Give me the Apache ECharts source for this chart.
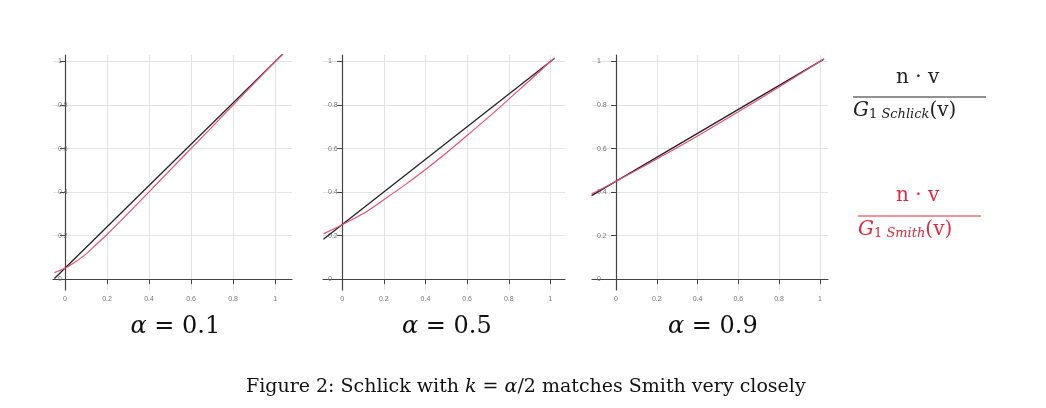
<!DOCTYPE html>
<html>
<head>
<meta charset="UTF-8">
<script src="https://cdn.jsdelivr.net/npm/echarts@6/dist/echarts.min.js"></script>
<style>
    html, body { margin: 0; padding: 0; background: #fff; }
    #chart { width: 1046px; height: 408px; }
</style>
</head>
<body>
<div id="chart"></div>
<script type="text/javascript">
    let chart = echarts.init(document.getElementById('chart'));

    // tick labels
    let tickValues = [0, 0.2, 0.4, 0.6, 0.8, 1];
    let alphas = ['0.1', '0.5', '0.9'];

    // alpha = 0.1
    let schlickX1 = [-0.05, 1.06];
    let schlickY1 = [0.0025, 1.057];
    let smithX1 = [-0.05, 0, 0.05, 0.1, 0.15, 0.2, 0.3, 0.4, 0.5, 0.6, 0.7, 0.8, 0.9, 1, 1.06];
    let smithY1 = [0.03, 0.05, 0.08, 0.115, 0.16, 0.205, 0.302, 0.401, 0.501, 0.601, 0.70, 0.80, 0.90, 1.0, 1.06];
    // alpha = 0.5
    let schlickX2 = [-0.09, 1.02];
    let schlickY2 = [0.183, 1.015];
    let smithX2 = [-0.09, 0, 0.1, 0.2, 0.3, 0.4, 0.5, 0.6, 0.7, 0.8, 0.9, 1, 1.02];
    let smithY2 = [0.208, 0.25, 0.30, 0.365, 0.432, 0.504, 0.58, 0.66, 0.742, 0.827, 0.913, 1.0, 1.017];
    // alpha = 0.9
    let schlickX3 = [-0.12, 1.02];
    let schlickY3 = [0.384, 1.011];
    let smithX3 = [-0.12, 0, 0.2, 0.4, 0.6, 0.8, 1, 1.02];
    let smithY3 = [0.391, 0.45, 0.552, 0.658, 0.769, 0.883, 1.0, 1.012];

    let panels = [
        {left: 53, right: 292, xmin: -0.057, xmax: 1.08, sx: schlickX1, sy: schlickY1, mx: smithX1, my: smithY1},
        {left: 323, right: 565, xmin: -0.092, xmax: 1.07, sx: schlickX2, sy: schlickY2, mx: smithX2, my: smithY2},
        {left: 592, right: 828, xmin: -0.118, xmax: 1.04, sx: schlickX3, sy: schlickY3, mx: smithX3, my: smithY3}
    ];

    function zip(xs, ys) {
        return xs.map((x, i) => [x, ys[i]]);
    }

    let grid = [], xAxis = [], yAxis = [], series = [], graphic = [];
    let labelStyle = {fontSize: 7, color: '#777', fontFamily: 'Liberation Sans'};
    panels.forEach((p, i) => {
        grid.push({left: p.left, width: p.right - p.left, top: 55, height: 235});
        xAxis.push({
            type: 'value', gridIndex: i, min: p.xmin, max: p.xmax,
            axisLine: {onZero: true, lineStyle: {color: '#444', width: 1.2}},
            axisTick: {customValues: tickValues, length: 5, inside: false, lineStyle: {color: '#444'}},
            axisLabel: Object.assign({customValues: tickValues, margin: 6}, labelStyle),
            splitLine: {show: true, lineStyle: {color: '#e4e4e4'}}
        });
        yAxis.push({
            type: 'value', gridIndex: i, min: -0.05, max: 1.03,
            axisLine: {onZero: true, lineStyle: {color: '#444', width: 1.2}},
            axisTick: {customValues: tickValues, length: 5, lineStyle: {color: '#444'}},
            axisLabel: Object.assign({customValues: tickValues, margin: -5, align: 'left',
                formatter: v => v === 0 ? '0' : String(v)}, labelStyle),
            splitLine: {show: true, lineStyle: {color: '#e4e4e4'}}
        });
        series.push({
            type: 'line', xAxisIndex: i, yAxisIndex: i, showSymbol: false, z: 3,
            lineStyle: {color: '#222', width: 1.3}, data: zip(p.sx, p.sy)
        });
        series.push({
            type: 'line', xAxisIndex: i, yAxisIndex: i, showSymbol: false, smooth: 0.3, z: 4,
            lineStyle: {color: '#e8507a', width: 1.2}, data: zip(p.mx, p.my)
        });
        graphic.push({
            type: 'text', left: (p.left + p.right) / 2 - 42, top: 315,
            style: {
                text: '{i|α} = ' + alphas[i],
                rich: {i: {fontStyle: 'italic', fontSize: 24, fontFamily: 'DejaVu Serif'}},
                font: '24px "DejaVu Serif"', fill: '#111'
            }
        });
    });

    // legend fractions
    let serifStyle = '"DejaVu Serif"';
    graphic.push(
        {type: 'text', left: 896, top: 68, style: {text: 'n · v', font: '20px ' + serifStyle, fill: '#222'}},
        {type: 'line', shape: {x1: 853, y1: 97, x2: 986, y2: 97}, style: {stroke: '#222', lineWidth: 1}},
        {type: 'text', left: 853, top: 101, style: {
            text: '{g|G}{s|1 }{sub|Schlick}{p|(v)}',
            rich: {
                g: {fontStyle: 'italic', fontSize: 20, fontFamily: serifStyle, fill: '#222'},
                s: {fontSize: 13, fontFamily: serifStyle, fill: '#222', padding: [8, 0, 0, 0]},
                sub: {fontStyle: 'italic', fontSize: 13, fontFamily: serifStyle, fill: '#222', padding: [8, 0, 0, 0]},
                p: {fontSize: 20, fontFamily: serifStyle, fill: '#222'}
            }
        }},
        {type: 'text', left: 896, top: 186, style: {text: 'n · v', font: '20px ' + serifStyle, fill: '#e0283e'}},
        {type: 'line', shape: {x1: 858, y1: 216, x2: 981, y2: 216}, style: {stroke: '#e0283e', lineWidth: 1}},
        {type: 'text', left: 858, top: 220, style: {
            text: '{g|G}{s|1 }{sub|Smith}{p|(v)}',
            rich: {
                g: {fontStyle: 'italic', fontSize: 20, fontFamily: serifStyle, fill: '#e0283e'},
                s: {fontSize: 13, fontFamily: serifStyle, fill: '#e0283e', padding: [8, 0, 0, 0]},
                sub: {fontStyle: 'italic', fontSize: 13, fontFamily: serifStyle, fill: '#e0283e', padding: [8, 0, 0, 0]},
                p: {fontSize: 20, fontFamily: serifStyle, fill: '#e0283e'}
            }
        }},
        {type: 'text', left: 246, top: 378, style: {
            text: 'Figure 2: Schlick with {i|k} = {i|α}/2 matches Smith very closely',
            font: '19px "DejaVu Serif"', fill: '#111',
            rich: {i: {fontStyle: 'italic', fontSize: 19, fontFamily: 'DejaVu Serif'}}
        }}
    );

    chart.setOption({
        animation: false,
        backgroundColor: '#fff',
        grid: grid,
        xAxis: xAxis,
        yAxis: yAxis,
        series: series,
        graphic: graphic
    });
</script>
</body>
</html>
